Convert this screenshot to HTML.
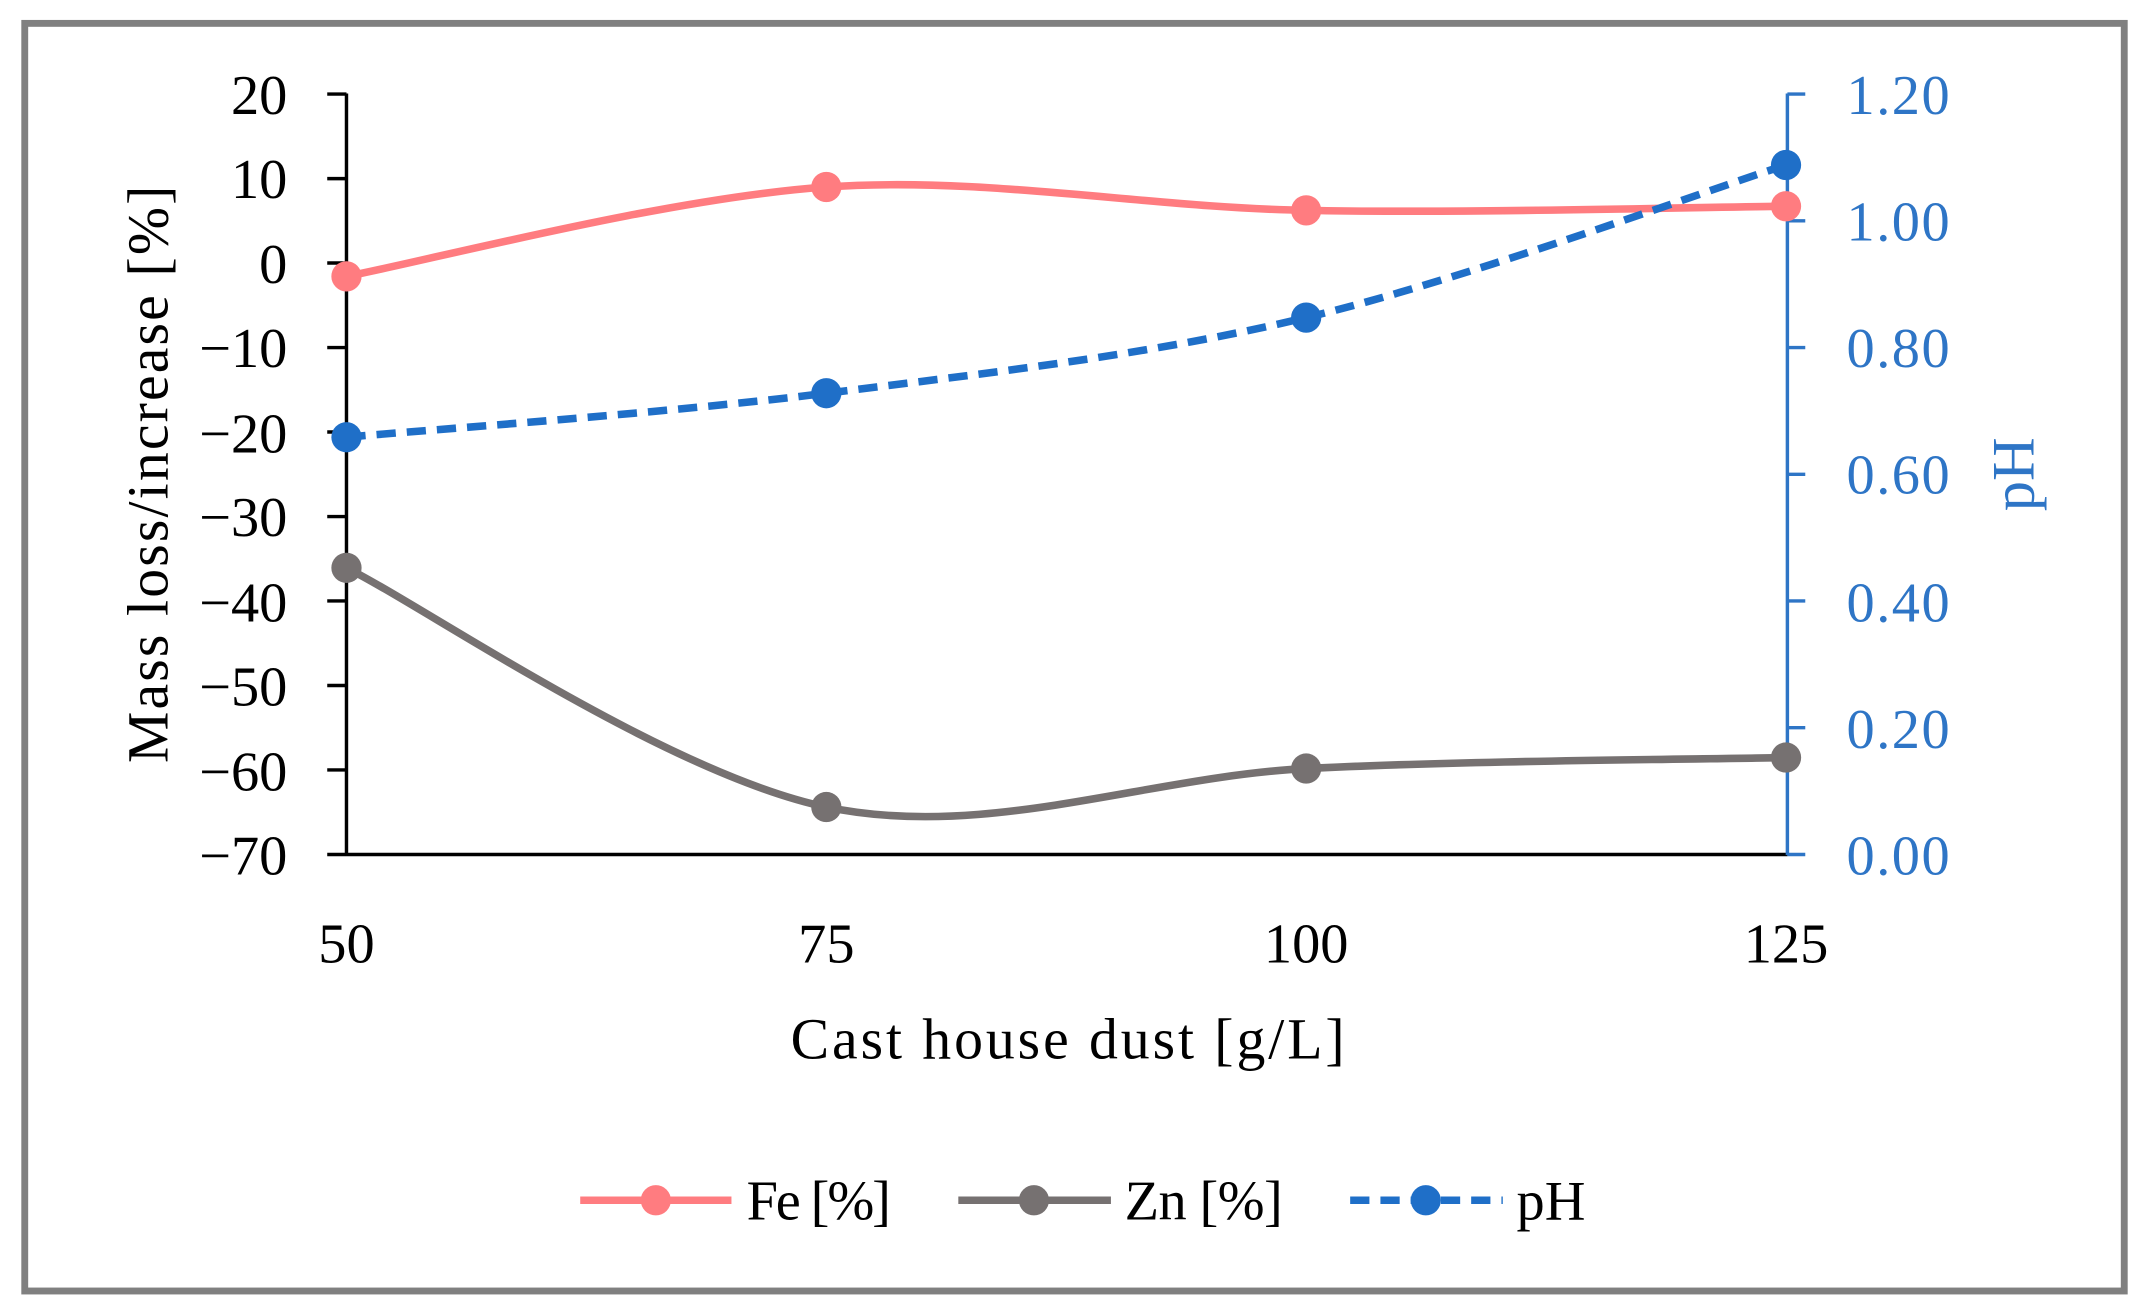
<!DOCTYPE html>
<html><head><meta charset="utf-8"><style>html,body{margin:0;padding:0;background:#fff}svg{display:block}</style></head>
<body>
<svg width="2149" height="1313" viewBox="0 0 1563 955" preserveAspectRatio="none" xmlns="http://www.w3.org/2000/svg" font-family="Liberation Serif, serif">
<rect x="0" y="0" width="1563" height="955" fill="#fff"/>
<rect x="18" y="17" width="1527" height="922" fill="none" stroke="#808080" stroke-width="5"/>
<g stroke="#000" stroke-width="2.5">
<line x1="252" y1="68" x2="252" y2="622"/>
<line x1="238" y1="68.4" x2="252" y2="68.4"/>
<line x1="238" y1="129.9" x2="252" y2="129.9"/>
<line x1="238" y1="191.3" x2="252" y2="191.3"/>
<line x1="238" y1="252.8" x2="252" y2="252.8"/>
<line x1="238" y1="314.2" x2="252" y2="314.2"/>
<line x1="238" y1="375.7" x2="252" y2="375.7"/>
<line x1="238" y1="437.1" x2="252" y2="437.1"/>
<line x1="238" y1="498.6" x2="252" y2="498.6"/>
<line x1="238" y1="560" x2="252" y2="560"/>
<line x1="238" y1="621.5" x2="252" y2="621.5"/>
<line x1="252" y1="621.5" x2="1300" y2="621.5"/>
</g>
<g font-size="41" text-anchor="end" fill="#000">
<text x="209" y="83">20</text>
<text x="209" y="144">10</text>
<text x="209" y="206">0</text>
<text x="209" y="267">−10</text>
<text x="209" y="329">−20</text>
<text x="209" y="390">−30</text>
<text x="209" y="452">−40</text>
<text x="209" y="513">−50</text>
<text x="209" y="575">−60</text>
<text x="209" y="636">−70</text>
</g>
<g stroke="#2e75c6" stroke-width="2.5">
<line x1="1300" y1="68" x2="1300" y2="622"/>
<line x1="1300" y1="68.4" x2="1313" y2="68.4"/>
<line x1="1300" y1="160.6" x2="1313" y2="160.6"/>
<line x1="1300" y1="252.8" x2="1313" y2="252.8"/>
<line x1="1300" y1="345" x2="1313" y2="345"/>
<line x1="1300" y1="437.1" x2="1313" y2="437.1"/>
<line x1="1300" y1="529.3" x2="1313" y2="529.3"/>
<line x1="1300" y1="621.5" x2="1313" y2="621.5"/>
</g>
<g font-size="41" fill="#2e75c6">
<text x="1343" y="83" textLength="75">1.20</text>
<text x="1343" y="175" textLength="75">1.00</text>
<text x="1343" y="267" textLength="75">0.80</text>
<text x="1343" y="359" textLength="75">0.60</text>
<text x="1343" y="452" textLength="75">0.40</text>
<text x="1343" y="544" textLength="75">0.20</text>
<text x="1343" y="636" textLength="75">0.00</text>
</g>
<text transform="translate(1479,345) rotate(-90)" text-anchor="middle" font-size="44" fill="#2e75c6">pH</text>
<text transform="translate(122,345) rotate(-90)" text-anchor="middle" font-size="42" fill="#000" textLength="420">Mass loss/increase [%]</text>
<g font-size="41" text-anchor="middle" fill="#000">
<text x="252" y="700">50</text>
<text x="601" y="700">75</text>
<text x="950" y="700">100</text>
<text x="1299" y="700">125</text>
</g>
<text x="575" y="770" font-size="42" textLength="403">Cast house dust [g/L]</text>
<path d="M252,201 C310,190 485,144 601,136 C717,128 834,151 950,153 C1066,155.3 1241,150.5 1299,150" fill="none" stroke="#ff7c80" stroke-width="5.5"/>
<path d="M252,413 C310,442 485,562.7 601,587 C717,611.3 834,565 950,559 C1066,553 1241,552.3 1299,551" fill="none" stroke="#767171" stroke-width="5.5"/>
<path d="M252,318 C310,312.7 485,300.5 601,286 C717,271.5 834,258.7 950,231 C1066,203.3 1241,138.5 1299,120" fill="none" stroke="#1f6fc8" stroke-width="5.5" stroke-dasharray="14,8"/>
<g fill="#ff7c80"><circle cx="252" cy="201" r="11"/><circle cx="601" cy="136" r="11"/><circle cx="950" cy="153" r="11"/><circle cx="1299" cy="150" r="11"/></g>
<g fill="#767171"><circle cx="252" cy="413" r="11"/><circle cx="601" cy="587" r="11"/><circle cx="950" cy="559" r="11"/><circle cx="1299" cy="551" r="11"/></g>
<g fill="#1f6fc8"><circle cx="252" cy="318" r="11"/><circle cx="601" cy="286" r="11"/><circle cx="950" cy="231" r="11"/><circle cx="1299" cy="120" r="11"/></g>
<line x1="422" y1="873" x2="532" y2="873" stroke="#ff7c80" stroke-width="5.5"/><circle cx="477" cy="873" r="11" fill="#ff7c80"/>
<text x="543" y="887" font-size="41" textLength="105">Fe [%]</text>
<line x1="697" y1="873" x2="808" y2="873" stroke="#767171" stroke-width="5.5"/><circle cx="752" cy="873" r="11" fill="#767171"/>
<text x="818" y="887" font-size="41" textLength="115">Zn [%]</text>
<line x1="982" y1="873" x2="1093" y2="873" stroke="#1f6fc8" stroke-width="5.5" stroke-dasharray="14,8"/><circle cx="1037" cy="873" r="11" fill="#1f6fc8"/>
<text x="1103" y="887" font-size="41">pH</text>
</svg>
</body></html>
